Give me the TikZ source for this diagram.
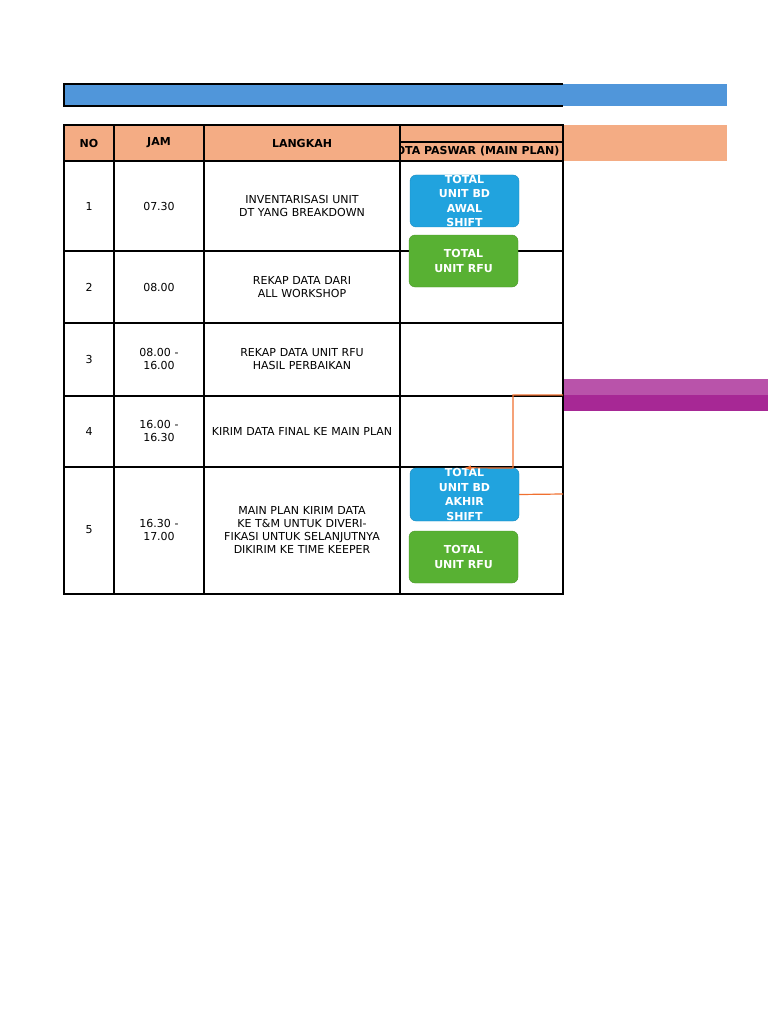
\documentclass[tikz,border=0pt]{standalone}
\usepackage{fontspec}
\setmainfont{DejaVu Sans}
\definecolor{hdr}{HTML}{F4AC84}
\definecolor{bbar}{HTML}{5096DA}
\definecolor{bluebox}{HTML}{21A3DE}
\definecolor{greenbox}{HTML}{58B133}
\definecolor{purp}{HTML}{A72895}
\definecolor{ora}{HTML}{F07030}
\tikzset{cell/.style={font=\fontsize{11}{13}\selectfont,align=center,text width=#1},
 btn/.style={rounded corners=6pt,draw=#1!85!black,fill=#1,text=white,font=\bfseries\fontsize{11}{14.5}\selectfont,align=center,inner sep=0},
 ln/.style={ora,line width=1.2pt}}
\begin{document}
\begin{tikzpicture}[x=1pt,y=-1pt]
\useasboundingbox (0,0) rectangle (768,1024);
\fill[bbar] (64,84) rectangle (727,106);
\draw[line width=1.2pt] (563,84) -- (64,84) -- (64,106) -- (563,106);
\fill[hdr] (64,125) rectangle (727,161);
\fill[purp!80!white] (563,379) rectangle (768,395);
\fill[purp] (563,395) rectangle (768,411);
\node[coordinate] (pl) at (563,395) {};
\draw[line width=1.2pt] (64,125) rectangle (563,594);
\foreach \x in {114,204,400} \draw[line width=1.2pt] (\x,125) -- (\x,594);
\foreach \y in {161,251,323,396,467} \draw[line width=1.2pt] (64,\y) -- (563,\y);
\draw[line width=1.2pt] (400,142) -- (563,142);
\begin{scope}
\clip (400,142) rectangle (563,161);
\node[font=\bfseries\fontsize{11}{13}\selectfont,anchor=east] (asw) at (563,151) {ANGGOTA PASWAR (MAIN PLAN)};
\end{scope}
\node[font=\bfseries\fontsize{11}{13}\selectfont] (h1) at (89,143) {NO};
\node[font=\bfseries\fontsize{11}{13}\selectfont] (h2) at (159,143) {JAM};
\node[font=\bfseries\fontsize{11}{13}\selectfont] (h3) at (302,143) {LANGKAH};
\foreach \n/\y/\j/\l in {1/206/07.30/INVENTARISASI UNIT DT YANG BREAKDOWN,
 2/287/08.00/REKAP DATA DARI ALL WORKSHOP,
 3/359/08.00 - 16.00/REKAP DATA UNIT RFU HASIL PERBAIKAN,
 4/431/16.00 - 16.30/KIRIM DATA FINAL KE MAIN PLAN,
 5/530/16.30 - 17.00/MAIN PLAN KIRIM DATA KE T\&M UNTUK DIVERIFIKASI UNTUK SELANJUTNYA DIKIRIM KE TIME KEEPER}{
 \node[cell=40pt] (n\n) at (89,\y) {\n};
 \node[cell=60pt] (j\n) at (159,\y) {\j};
 \node[cell=190pt] (l\n) at (302,\y) {\l};}
\node[btn=bluebox,minimum width=109pt,minimum height=52pt] (b1) at (464.5,201) {TOTAL\\UNIT BD\\AWAL\\SHIFT};
\node[btn=greenbox,minimum width=109pt,minimum height=52pt] (g1) at (463.5,261) {TOTAL\\UNIT RFU};
\node[btn=bluebox,minimum width=109pt,minimum height=53pt] (b2) at (464.5,494.5) {TOTAL\\UNIT BD\\AKHIR\\SHIFT};
\node[btn=greenbox,minimum width=109pt,minimum height=52pt] (g2) at (463.5,557) {TOTAL\\UNIT RFU};
\draw[ln,-latex] (pl) -- (513,395) -- (513,468) -- (b2.north);
\node[coordinate] (pr) at (563,494) {};
\draw[ln] (b2.east) -- (pr);
\end{tikzpicture}
\end{document}
